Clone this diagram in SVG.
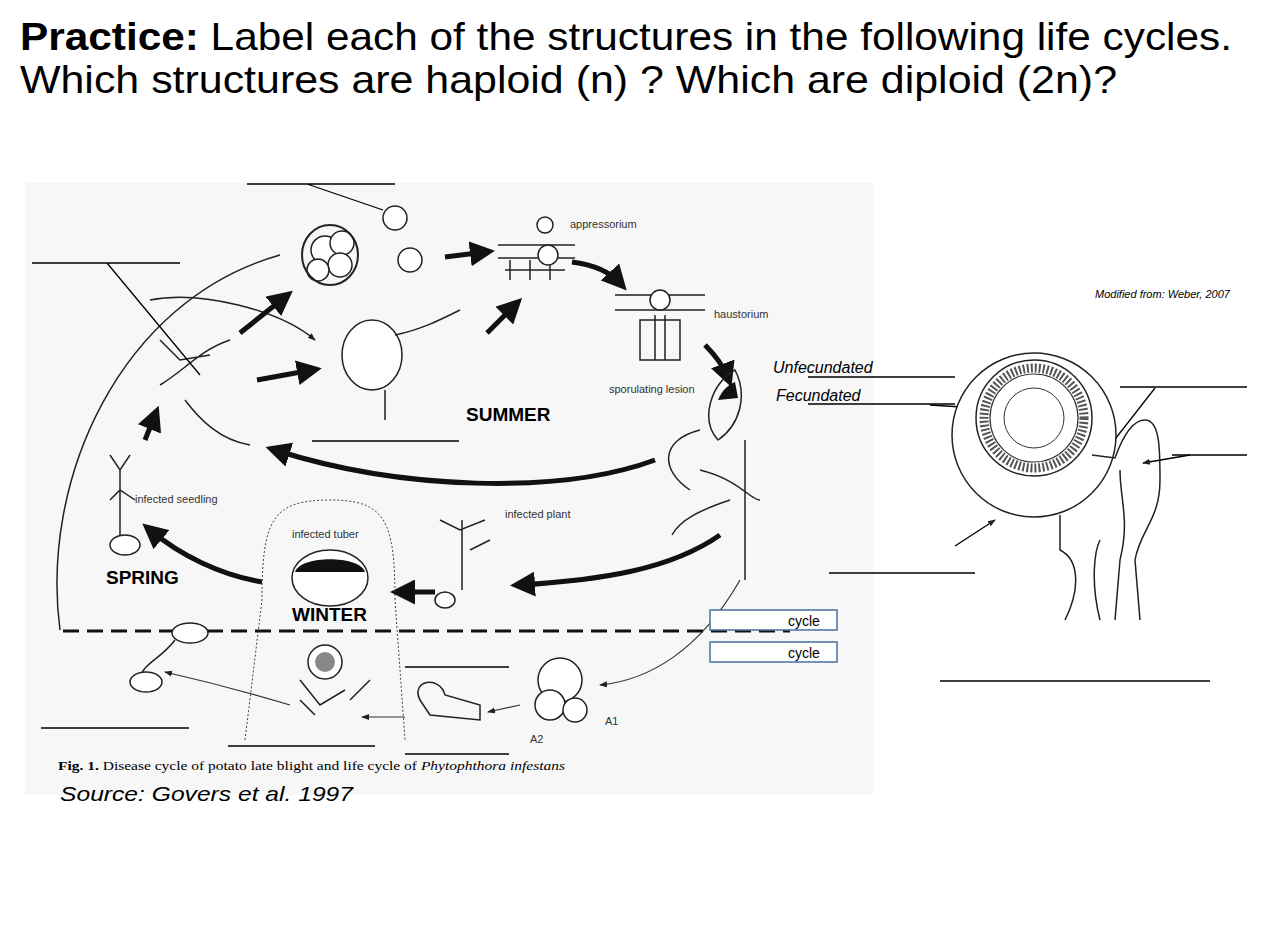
<svg xmlns="http://www.w3.org/2000/svg" width="1264" height="936" viewBox="0 0 1264 936">
<style>
.t{font-family:"Liberation Sans",Arial,sans-serif;fill:#000}
.s{font-family:"Liberation Sans",Arial,sans-serif;fill:#333;font-size:11px}
.ln{stroke:#000;stroke-width:1.3;fill:none}
.d{stroke:#222;stroke-width:1.5;fill:none}
.big{stroke:#111;stroke-width:5;fill:none;marker-end:url(#ah)}
.thin{stroke:#333;stroke-width:1.2;fill:none;marker-end:url(#sa)}
.cell{fill:#fff;stroke:#222;stroke-width:1.5}
</style>
<defs>
<marker id="ah" markerWidth="5" markerHeight="5" refX="3" refY="2.5" orient="auto"><path d="M0,0L5,2.5L0,5z" fill="#111"/></marker>
<marker id="sa" markerWidth="8" markerHeight="8" refX="7" refY="4" orient="auto" markerUnits="userSpaceOnUse"><path d="M0,1L8,4L0,7z" fill="#222"/></marker>
</defs>
<rect width="1264" height="936" fill="#fff"/>
<text class="t" x="20" y="50" font-size="39" textLength="1212" lengthAdjust="spacingAndGlyphs"><tspan font-weight="bold">Practice:</tspan> Label each of the structures in the following life cycles.</text>
<text class="t" x="20" y="93" font-size="39" textLength="1097" lengthAdjust="spacingAndGlyphs">Which structures are haploid (n) ? Which are diploid (2n)?</text>
<rect x="25" y="183" width="848" height="612" fill="#f7f7f7"/>
<g id="figure">
<path class="d" d="M60,630 C40,480 120,300 280,255"/>
<path class="d" d="M150,300 C200,290 280,310 315,340" marker-end="url(#sa)"/>
<path class="thin" d="M740,580 C700,650 650,680 600,685"/>
<path class="thin" d="M520,705 L488,712"/>
<path class="thin" d="M405,717 L362,717"/>
<path class="thin" d="M290,705 C240,690 200,680 165,672"/>
<path class="big" d="M445,257 L485,252"/>
<path class="big" d="M572,262 C595,265 610,272 620,283"/>
<path class="big" d="M705,345 C720,360 725,370 728,378"/>
<path class="big" d="M240,333 L285,297"/>
<path class="big" d="M257,380 L312,370"/>
<path class="big" d="M487,333 L515,305"/>
<path class="big" d="M145,440 L155,415"/>
<path class="big" d="M655,460 C560,495 400,490 275,450"/>
<path class="big" d="M720,535 C670,570 600,580 520,585"/>
<path class="big" d="M435,592 L400,592"/>
<path class="big" d="M262,582 C220,575 180,555 150,530"/>
<path d="M245,740 L262,600 C262,520 272,500 330,500 C385,500 395,520 395,600 L405,740" stroke="#444" stroke-dasharray="2,2" fill="none"/>
<line x1="63" y1="631" x2="790" y2="631" stroke="#111" stroke-width="3" stroke-dasharray="16,8"/>
<g><circle class="cell" cx="325" cy="250" r="14"/><circle class="cell" cx="342" cy="243" r="12"/><circle class="cell" cx="340" cy="265" r="12"/><circle class="cell" cx="318" cy="270" r="11"/><ellipse cx="330" cy="255" rx="28" ry="30" fill="none" stroke="#222" stroke-width="2"/></g>
<circle class="cell" cx="395" cy="218" r="12"/><circle class="cell" cx="410" cy="260" r="12"/>
<ellipse class="cell" cx="372" cy="355" rx="30" ry="35"/><path class="d" d="M395,335 C420,330 440,320 460,310"/>
<path class="d" d="M498,245 L575,245 M498,258 L575,258 M505,270 h60 M510,280 v-20 M530,280 v-20 M550,280 v-20"/><circle class="cell" cx="548" cy="255" r="10"/><circle class="cell" cx="545" cy="225" r="8"/>
<path class="d" d="M615,295 h90 M615,310 h90 M640,320 h40 v40 h-40z M655,315 v45 M665,315 v45"/><circle class="cell" cx="660" cy="300" r="10"/>
<path class="d" d="M735,370 C710,385 700,420 718,440 C740,425 748,395 735,370z M700,430 C660,440 660,470 690,490 M700,470 C740,480 750,500 760,500 M730,500 C700,510 680,520 672,535 M745,440 v140"/>
<path d="M718,400 C722,390 728,385 735,382 L738,398z" fill="#111"/>
<path class="d" d="M160,385 C185,370 200,350 230,340 M185,400 C200,420 220,440 250,445 M160,340 l20,20 l30,-5"/>
<path class="d" d="M120,470 v80 M110,455 l10,15 l10,-15 M110,500 l10,-10 l15,10"/><ellipse class="cell" cx="125" cy="545" rx="15" ry="10"/>
<ellipse class="cell" cx="330" cy="578" rx="38" ry="28"/><path d="M295,572 C300,555 360,555 365,572z" fill="#111"/>
<path class="d" d="M462,520 v70 M440,520 l20,10 l25,-10 M470,550 l20,-10"/><ellipse class="cell" cx="445" cy="600" rx="10" ry="8"/>
<ellipse class="cell" cx="190" cy="633" rx="18" ry="10"/><path class="d" d="M175,640 C160,660 140,665 140,680"/><ellipse class="cell" cx="146" cy="682" rx="16" ry="10"/>
<circle class="cell" cx="325" cy="662" r="17"/><circle cx="325" cy="662" r="10" fill="#888"/><path class="d" d="M300,680 L320,705 L345,690 M300,700 l15,15 M350,700 l20,-20"/>
<path class="d" d="M420,700 C410,680 440,675 445,695 L480,705 L480,720 L430,715z"/>
<circle class="cell" cx="560" cy="680" r="22"/><circle class="cell" cx="550" cy="705" r="15"/><circle class="cell" cx="575" cy="710" r="12"/>
<text class="s" x="570" y="228">appressorium</text>
<text class="s" x="714" y="318">haustorium</text>
<text class="s" x="609" y="393">sporulating lesion</text>
<text class="t" x="466" y="421" font-size="19" font-weight="bold">SUMMER</text>
<text class="s" x="135" y="503">infected seedling</text>
<text class="s" x="505" y="518">infected plant</text>
<text class="s" x="292" y="538">infected tuber</text>
<text class="t" x="106" y="584" font-size="19" font-weight="bold">SPRING</text>
<text class="t" x="292" y="621" font-size="19" font-weight="bold">WINTER</text>
<text class="s" x="605" y="725" font-size="9">A1</text>
<text class="s" x="530" y="743" font-size="9">A2</text>
<text x="58" y="770" font-family="Liberation Serif,serif" font-size="12" textLength="507" lengthAdjust="spacingAndGlyphs"><tspan font-weight="bold">Fig. 1.</tspan> Disease cycle of potato late blight and life cycle of <tspan font-style="italic">Phytophthora infestans</tspan></text>
</g>
<text class="t" x="60" y="801" font-size="21" font-style="italic" textLength="293" lengthAdjust="spacingAndGlyphs">Source: Govers et al. 1997</text>
<g id="labels">
<path class="ln" d="M247,184H395 M307,184L383,210 M32,263H180 M107,263L200,375 M312,441H459 M385,390V420 M405,667H509 M405,754H509 M228,746H375 M41,728H189 M808,377H955 M808,404H955 M1120,387H1247 M1172,455H1247 M829,573H975 M940,681H1210"/>
<path class="ln" d="M930,405L1010,410" marker-end="url(#sa)"/>
<path class="ln" d="M1155,388L1105,452" marker-end="url(#sa)"/>
<path class="ln" d="M1190,455L1143,463" marker-end="url(#sa)"/>
<path class="ln" d="M955,546L995,520" marker-end="url(#sa)"/>
</g>
<g id="cycles">
<rect x="710" y="610" width="127" height="20" fill="#fff" stroke="#4a6fa5" stroke-width="1.5"/>
<text class="t" x="788" y="626" font-size="14">cycle</text>
<rect x="710" y="642" width="127" height="20" fill="#fff" stroke="#4a6fa5" stroke-width="1.5"/>
<text class="t" x="788" y="658" font-size="14">cycle</text>
</g>
<text class="t" x="1095" y="298" font-size="11" font-style="italic">Modified from: Weber, 2007</text>
<text class="t" x="773" y="373" font-size="16" font-style="italic">Unfecundated</text>
<text class="t" x="776" y="401" font-size="16" font-style="italic">Fecundated</text>
<g id="oospore">
<circle cx="1034" cy="435" r="82" fill="#fff" stroke="#222" stroke-width="1.5"/>
<circle cx="1034" cy="418" r="58" fill="none" stroke="#222" stroke-width="1.5"/>
<circle cx="1034" cy="418" r="50" fill="none" stroke="#555" stroke-width="9" stroke-dasharray="2,2"/>
<circle cx="1034" cy="418" r="44" fill="none" stroke="#333" stroke-width="1.2"/>
<circle cx="1034" cy="418" r="30" fill="#fff" stroke="#333"/>
<path class="d" d="M1092,455 L1115,458 C1125,430 1135,420 1145,420 C1160,420 1160,450 1160,480 C1160,520 1140,530 1135,560 L1140,620 M1120,470 C1120,500 1130,520 1120,560 L1115,620 M1060,515 L1060,550 C1080,560 1080,590 1065,620 M1100,540 C1095,550 1090,580 1100,620"/>
</g>
</svg>
